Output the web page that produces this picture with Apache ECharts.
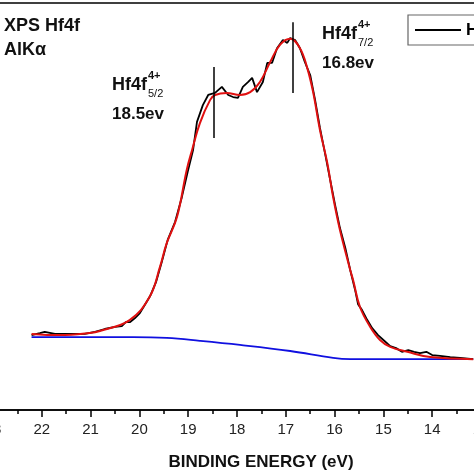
<!DOCTYPE html>
<html>
<head>
<meta charset="utf-8">
<title>XPS Hf4f</title>
<script src="https://cdn.jsdelivr.net/npm/echarts@6/dist/echarts.min.js"></script>
<style>
  html, body { margin: 0; padding: 0; background: #fff; }
  #main { width: 474px; height: 474px; }
</style>
</head>
<body>
<div id="main"></div>
<script type="text/javascript">
  // binding energy (eV) / intensity (a.u.)
  var rawE = [22.21, 22.04, 21.94, 21.73, 21.43, 21.12, 20.91, 20.71, 20.50, 20.36, 20.28, 20.19, 20.09, 19.99, 19.89, 19.78,
    19.66, 19.54, 19.42, 19.27, 19.13, 19.01, 18.90, 18.82, 18.70, 18.59, 18.45, 18.31, 18.18, 18.08, 17.98, 17.88, 17.77,
    17.69, 17.59, 17.47, 17.38, 17.28, 17.18, 17.06, 16.97, 16.91, 16.81, 16.71, 16.61, 16.50, 16.40, 16.30, 16.19, 16.09,
    15.99, 15.89, 15.78, 15.68, 15.58, 15.52, 15.44, 15.33, 15.23, 15.11, 15.00, 14.86, 14.74, 14.62, 14.49, 14.37, 14.25,
    14.12, 14.00, 13.84, 13.63, 13.43, 13.16];
  var rawI = [18.4, 18.9, 19.2, 18.7, 18.7, 18.7, 19.2, 19.9, 20.4, 20.6, 21.6, 21.6, 22.6, 23.8, 25.8, 28.0,
    31.4, 36.4, 41.8, 46.2, 52.3, 58.5, 63.9, 70.8, 74.9, 77.4, 77.9, 79.4, 77.4, 76.9, 76.7, 79.4, 80.6,
    81.6, 78.1, 80.6, 85.3, 85.3, 88.9, 90.9, 90.2, 91.4, 90.9, 88.9, 85.5, 82.3, 76.2, 69.3, 62.7, 56.5,
    50.4, 44.7, 39.8, 34.4, 29.5, 26.0, 24.6, 22.1, 20.1, 18.4, 17.2, 15.7, 15.2, 14.3, 14.7, 14.3, 14.0,
    14.3, 13.5, 13.3, 13.0, 12.8, 12.5];

  var fitE = [22.21, 21.63, 21.02, 20.81, 20.20, 19.79, 19.58, 19.44, 19.23, 19.03, 18.92, 18.76, 18.55, 18.45, 18.21,
    17.94, 17.73, 17.53, 17.32, 17.12, 16.91, 16.71, 16.56, 16.44, 16.30, 16.15, 16.03, 15.89, 15.68, 15.62, 15.48,
    15.27, 15.07, 14.86, 14.51, 14.04, 13.16];
  var fitI = [18.7, 18.4, 18.9, 19.4, 22.1, 27.8, 35.1, 41.0, 47.4, 59.0, 63.9, 70.5, 76.2, 77.4, 77.9,
    77.4, 78.1, 80.6, 85.5, 89.7, 91.2, 88.9, 84.0, 78.1, 68.8, 60.7, 52.3, 44.2, 34.4, 31.9, 25.3,
    20.4, 17.2, 15.5, 14.3, 13.0, 12.5];

  var bgE = [22.21, 20.13, 19.44, 18.76, 17.94, 16.91, 16.03, 15.68, 13.16];
  var bgI = [17.9, 17.9, 17.7, 17.0, 16.0, 14.5, 12.8, 12.5, 12.5];

  // peak markers: position and vertical extent
  var peakE = [18.47, 16.85];
  var peakLo = [66.8, 77.9];
  var peakHi = [84.3, 95.3];

  var xTicks = [13, 23];

  function zip(a, b) {
    var out = [];
    for (var i = 0; i < a.length; i++) out.push([a[i], b[i]]);
    return out;
  }

  var markData = [];
  for (var k = 0; k < peakE.length; k++) {
    markData.push([{ coord: [peakE[k], peakLo[k]] }, { coord: [peakE[k], peakHi[k]] }]);
  }

  var chart = echarts.init(document.getElementById('main'));
  var fnt = 'Arial, "Liberation Sans", sans-serif';

  chart.setOption({
    animation: false,
    backgroundColor: '#fff',
    grid: {
      left: -7, right: -7, top: 3, bottom: 64,
      outerBoundsMode: 'none',
      containLabel: false,
      show: true, borderColor: '#000', borderWidth: 1.5
    },
    legend: {
      left: 408, top: 15,
      data: [{ name: 'Hf4f', icon: 'rect' }],
      itemWidth: 46, itemHeight: 2,
      padding: [5, 30, 5, 7],
      borderColor: '#666', borderWidth: 1.2,
      textStyle: { fontFamily: fnt, fontWeight: 'bold', fontSize: 17, color: '#000', lineHeight: 20 }
    },
    xAxis: {
      type: 'value',
      inverse: true,
      min: xTicks[0], max: xTicks[1], interval: 1,
      splitLine: { show: false },
      axisLine: { lineStyle: { color: '#000', width: 1.5 } },
      axisTick: { length: 7, lineStyle: { color: '#000', width: 1.5 } },
      minorTick: { show: true, splitNumber: 2, length: 4, lineStyle: { color: '#000', width: 1.5 } },
      axisLabel: { fontFamily: fnt, fontSize: 15, color: '#222', margin: 12 }
    },
    yAxis: {
      type: 'value', show: false, min: 0, max: 100,
      splitLine: { show: false }
    },
    series: [
      {
        name: 'Hf4f', type: 'line', symbol: 'none',
        data: zip(rawE, rawI),
        lineStyle: { color: '#000', width: 1.8 },
        itemStyle: { color: '#000' },
        z: 2,
        markLine: {
          silent: true, symbol: 'none', label: { show: false },
          lineStyle: { color: '#000', width: 1.5, type: 'solid' },
          data: markData
        }
      },
      {
        name: 'fit', type: 'line', symbol: 'none', smooth: 0.4,
        data: zip(fitE, fitI),
        lineStyle: { color: '#e01010', width: 2 },
        itemStyle: { color: '#e01010' },
        z: 3
      },
      {
        name: 'background', type: 'line', symbol: 'none', smooth: 0.4,
        data: zip(bgE, bgI),
        lineStyle: { color: '#1010e0', width: 1.8 },
        itemStyle: { color: '#1010e0' },
        z: 1
      }
    ],
    graphic: [
      { type: 'text', left: 4, top: 17, style: { text: 'XPS Hf4f', font: 'bold 18px ' + fnt, fill: '#111' } },
      { type: 'text', left: 4, top: 41, style: { text: 'AlKα', font: 'bold 18px ' + fnt, fill: '#111' } },
      { type: 'text', left: 112, top: 76, style: { text: 'Hf4f', font: 'bold 18px ' + fnt, fill: '#111' } },
      { type: 'text', left: 148, top: 70, style: { text: '4+', font: 'bold 11px ' + fnt, fill: '#111' } },
      { type: 'text', left: 148, top: 88, style: { text: '5/2', font: '11px ' + fnt, fill: '#111' } },
      { type: 'text', left: 112, top: 106, style: { text: '18.5ev', font: 'bold 17px ' + fnt, fill: '#111' } },
      { type: 'text', left: 322, top: 25, style: { text: 'Hf4f', font: 'bold 18px ' + fnt, fill: '#111' } },
      { type: 'text', left: 358, top: 19, style: { text: '4+', font: 'bold 11px ' + fnt, fill: '#111' } },
      { type: 'text', left: 358, top: 37, style: { text: '7/2', font: '11px ' + fnt, fill: '#111' } },
      { type: 'text', left: 322, top: 55, style: { text: '16.8ev', font: 'bold 17px ' + fnt, fill: '#111' } },
      { type: 'text', x: 261, y: 462, style: { text: 'BINDING ENERGY (eV)', font: 'bold 17px ' + fnt, fill: '#111', align: 'center', verticalAlign: 'middle' } }
    ]
  });
</script>
</body>
</html>
